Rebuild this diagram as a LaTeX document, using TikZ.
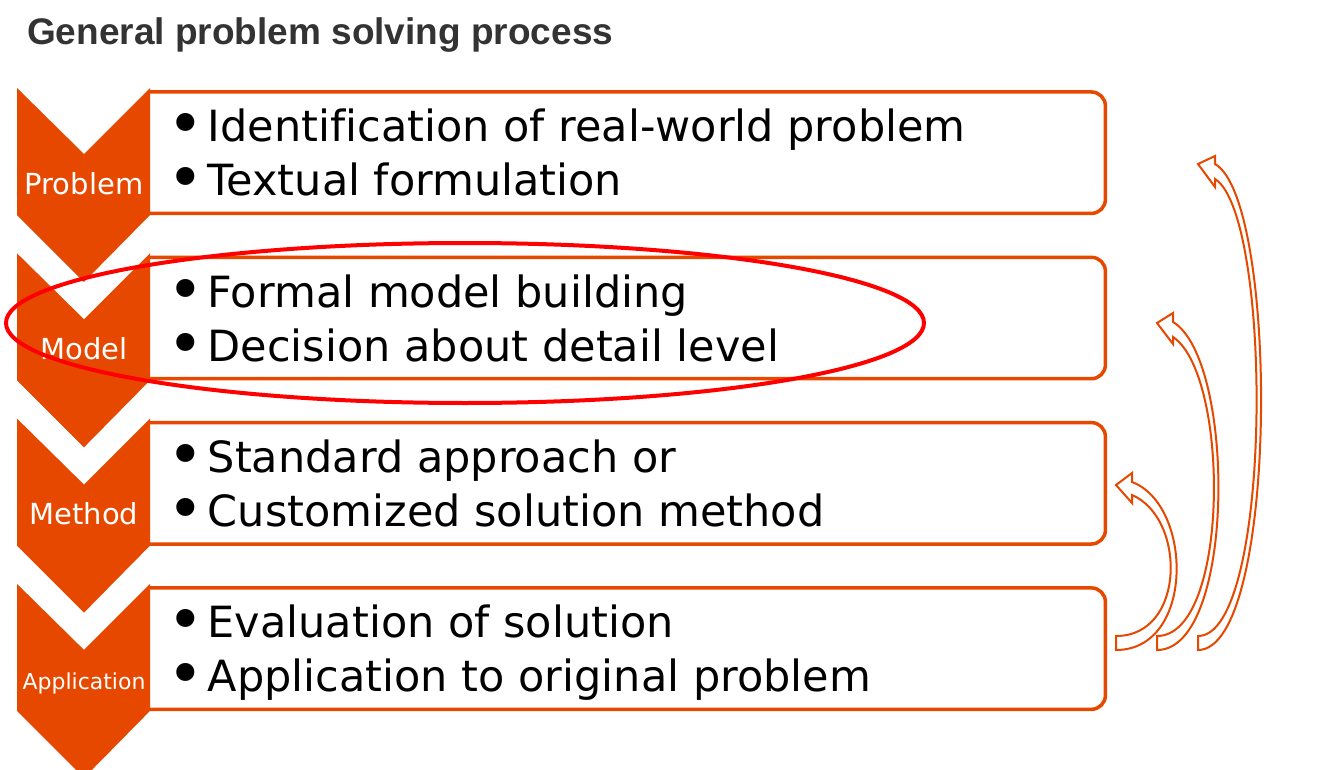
\documentclass[tikz,border=0pt]{standalone}
\usepackage{fontspec}
\setmainfont{DejaVu Sans}[Ligatures=NoCommon]
\newfontfamily\titlefont{Liberation Sans}
\definecolor{stageorange}{RGB}{230,72,0}
\definecolor{titlegray}{RGB}{51,51,51}
\newcommand\bul{{\fontsize{62}{62}\selectfont\raisebox{-4pt}[0pt][0pt]{•}}}
\tikzset{
  stagebox/.style = {draw=stageorange, line width=3.5pt, rounded corners=14pt},
  stagelab/.style = {text=white, inner sep=0pt, anchor=base},
  bullettext/.style = {inner sep=0pt, anchor=base west, font=\fontsize{43}{43}\selectfont},
  loopback/.style = {draw=stageorange, line width=2pt, fill=white, line join=miter}
}
\begin{document}
\begin{tikzpicture}[x=1pt, y=-1pt]
    \useasboundingbox (0,0) rectangle (1332,770);
    \node[anchor=base west, inner sep=0pt, text=titlegray,
          font=\titlefont\bfseries\fontsize{37}{37}\selectfont] (title) at (27,45) {General problem solving process};
    \foreach \lab/\fs/\ta/\tb [count=\i from 0] in
      {Problem/29/Identification of real-world problem/Textual formulation,
       Model/29/Formal model building/Decision about detail level,
       Method/29/Standard approach or/Customized solution method,
       Application/22/Evaluation of solution/Application to original problem}
    {
    \pgfmathsetmacro\yt{88+165.3*\i}
    \node[anchor=north west, minimum width=955pt, minimum height=121pt, inner sep=0pt] (box\i) at (150,\yt+4) {};
    \draw[stagebox] (box\i.north west) -- (box\i.north east) -- (box\i.south east) -- (box\i.south west);
    \fill[stageorange] (17,\yt) -- ++(67,66) -- ++(66,-66) -- ++(0,127) -- ++(-66,67) -- ++(-67,-67) -- cycle;
    \node[stagelab, font=\fontsize{\fs}{\fs}\selectfont] (lab\i) at (84,\yt+106) {\lab};
    \node[bullettext] (ta\i) at (167,\yt+54) {\bul\hspace{4pt}\ta};
    \node[bullettext] (tb\i) at (167,\yt+108) {\bul\hspace{4pt}\tb};
    }
    % highlight of the model step
    \draw[red, line width=4pt] (465,323) ellipse [x radius=459, y radius=80];
    % feedback arrows
    \draw[loopback] (1116,650) .. controls (1195,650) and (1193,505) .. (1132,482) -- (1132,473) -- (1116,485)
        -- (1132,503) -- (1132,495) .. controls (1186,518) and (1186,636) .. (1116,636) -- cycle;
    \draw[loopback] (1157,650) .. controls (1236,650) and (1236,360) .. (1173,322) -- (1173,313) -- (1157,323)
        -- (1173,344) -- (1173,337) .. controls (1230,375) and (1230,636) .. (1157,636) -- cycle;
    \draw[loopback] (1198,650) .. controls (1279,650) and (1279,200) .. (1215,164) -- (1215,156) -- (1198,164)
        -- (1215,187) -- (1215,179) .. controls (1273,215) and (1273,636) .. (1198,636) -- cycle;
\end{tikzpicture}
\end{document}
